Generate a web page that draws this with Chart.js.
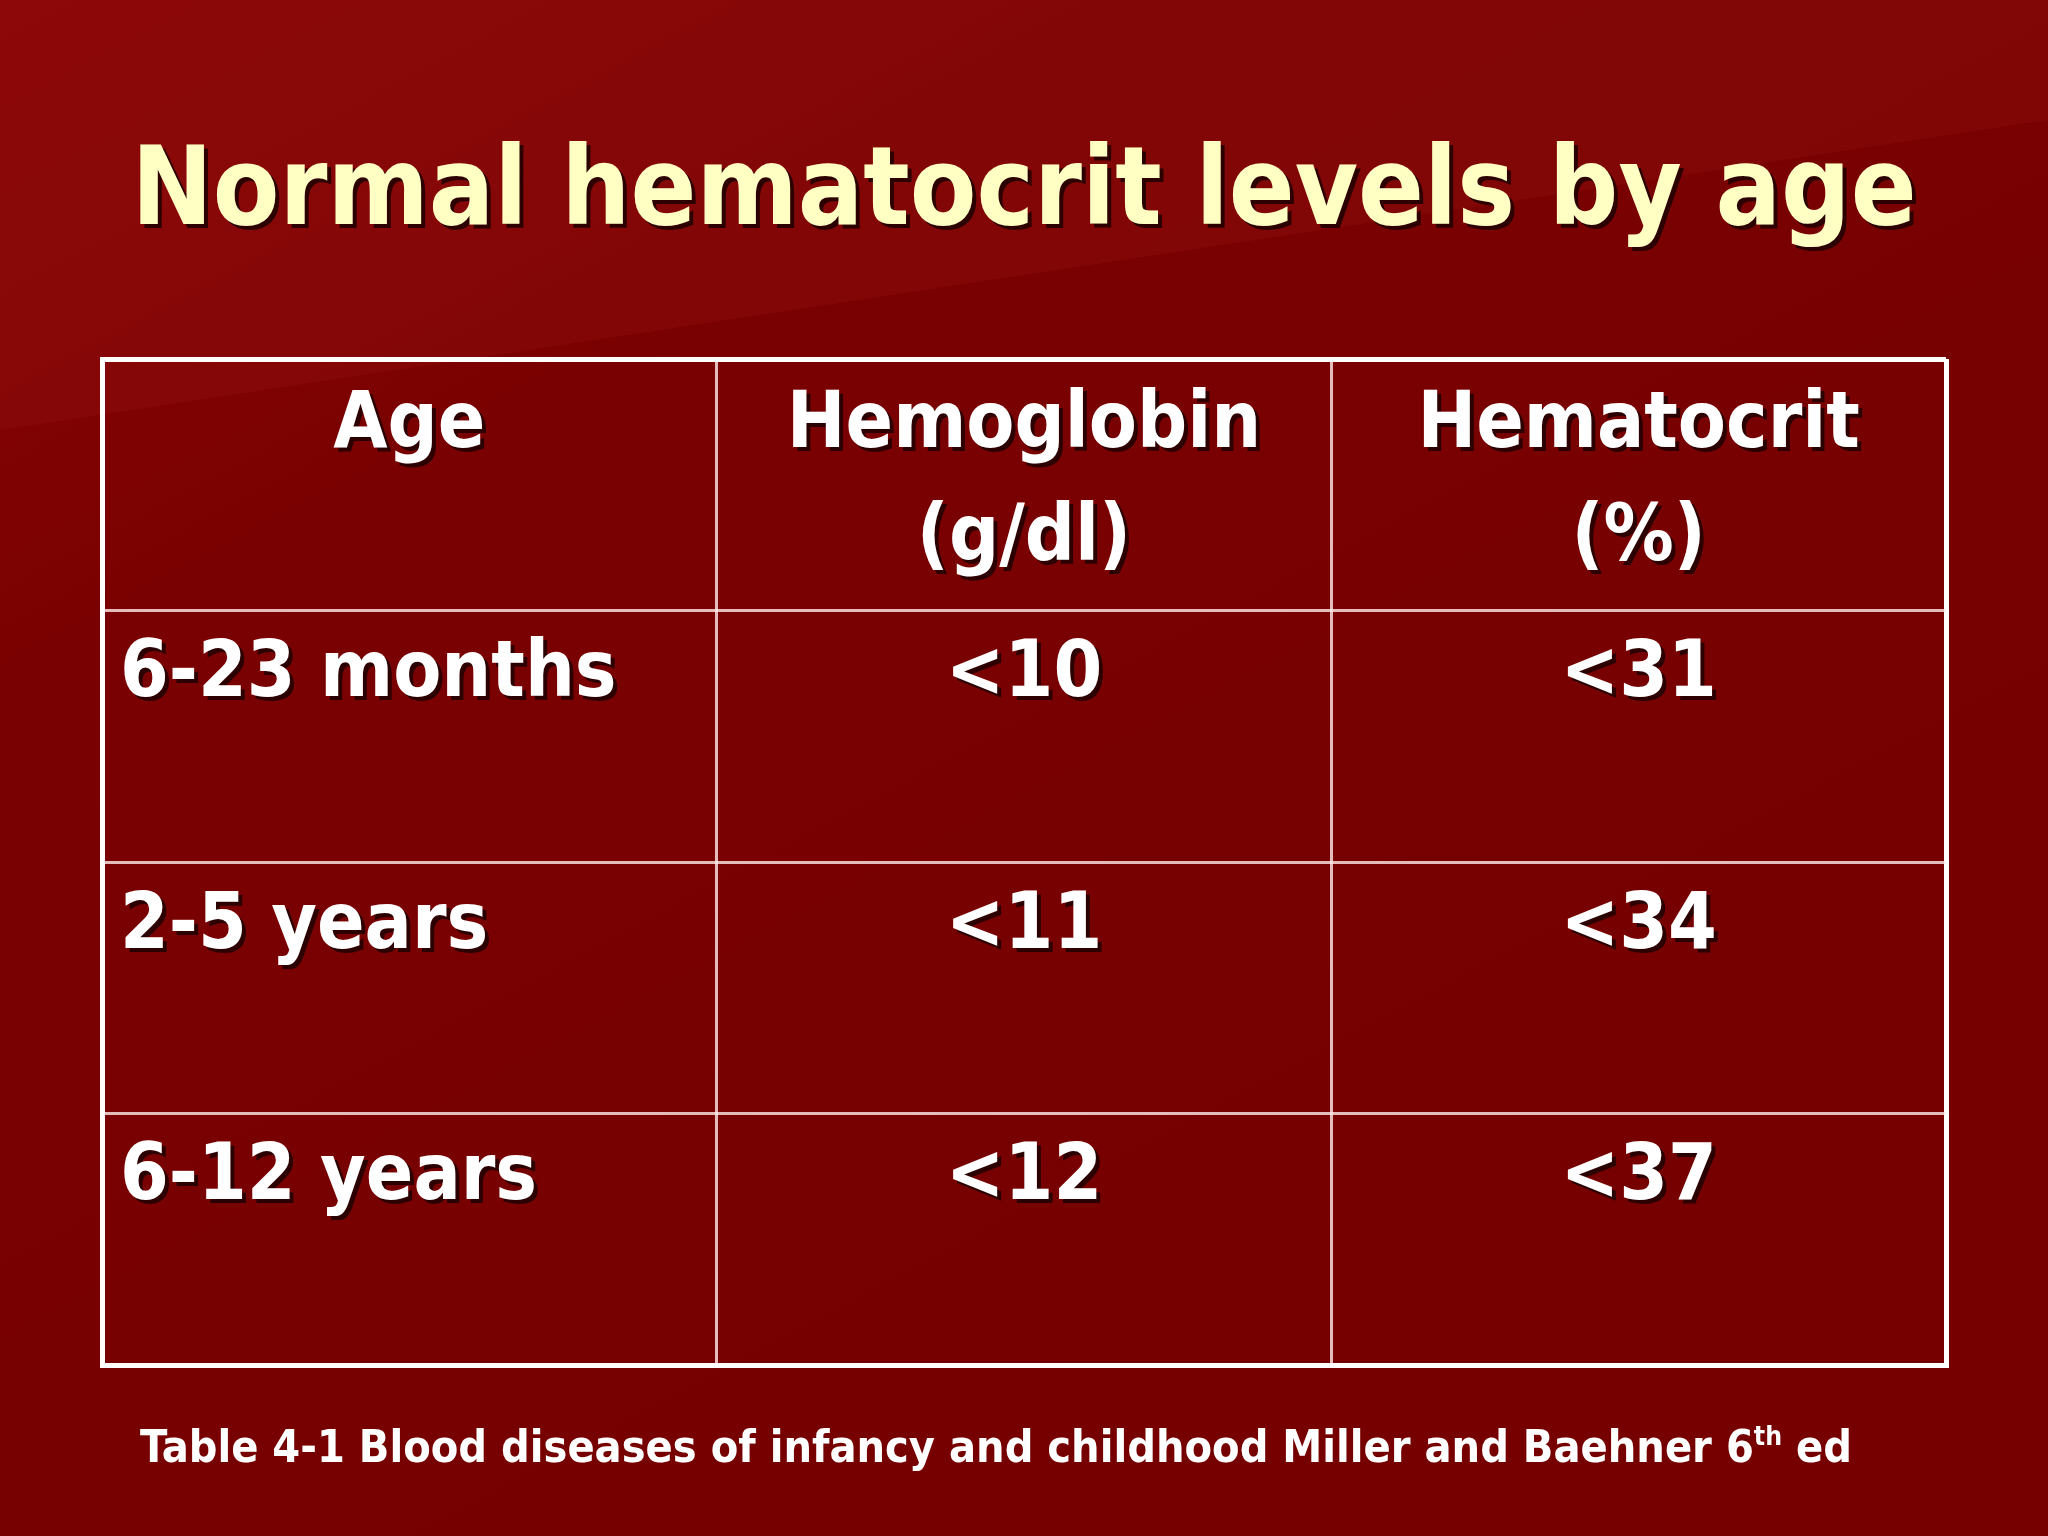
<!DOCTYPE html>
<html><head><meta charset="utf-8">
<script src="https://cdn.jsdelivr.net/npm/chart.js@4"></script>
<style>html,body{margin:0;padding:0;background:#7a0000}#w{width:2048px;height:1536px}</style>
</head><body><div id="w"><canvas id="c"></canvas></div>
<script>
const title = "Normal hematocrit levels by age";
const headers = [["Age"], ["Hemoglobin", "(g/dl)"], ["Hematocrit", "(%)"]];
const ages = ["6-23 months", "2-5 years", "6-12 years"];
const hemoglobin = ["<10", "<11", "<12"];
const hematocrit = ["<31", "<34", "<37"];
const caption = "Table 4-1 Blood diseases of infancy and childhood Miller and Baehner 6";
const captionSup = "th";
const captionEnd = " ed";

const FONT = "'DejaVu Sans Condensed', 'DejaVu Sans', sans-serif";
const tablePlugin = {
  id: 'tbl',
  beforeDraw(chart) {
    const ctx = chart.ctx, W = chart.width, H = chart.height;
    const g = ctx.createLinearGradient(0, 0, W * 0.4, H);
    g.addColorStop(0, '#8a0404'); g.addColorStop(0.35, '#7a0101'); g.addColorStop(1, '#760000');
    ctx.save(); ctx.fillStyle = g; ctx.fillRect(0, 0, W, H);
    ctx.fillStyle = 'rgba(150,20,20,0.3)';
    ctx.beginPath(); ctx.moveTo(0, 0); ctx.lineTo(W, 0); ctx.lineTo(W, 120); ctx.lineTo(0, 430); ctx.closePath(); ctx.fill();
    ctx.restore();
  },
  afterDraw(chart) {
    const ctx = chart.ctx, xs = chart.scales.x, ys = chart.scales.y;
    const shadowText = (t, x, y, color) => {
      ctx.fillStyle = 'rgba(30,0,0,0.85)'; ctx.fillText(t, x + 4, y + 4);
      ctx.fillStyle = color; ctx.fillText(t, x, y);
    };
    ctx.save();
    ctx.textBaseline = 'middle';
    ctx.font = `bold 136px ${FONT}`;
    let tw = ctx.measureText(title).width;
    const ts = 1783 / tw;
    ctx.font = `bold ${Math.round(136 * ts)}px ${FONT}`;
    ctx.textAlign = 'center';
    shadowText(title, 1024, 196, '#ffffc4');
    ctx.font = `bold 78px ${FONT}`;
    headers.forEach((lines, c) => {
      lines.forEach((l, i) => {
        shadowText(l, xs.getPixelForValue(c + 0.5), ys.getPixelForValue(0.27 + i * 0.45), '#ffffff');
      });
    });
    const cols = [ages, hemoglobin, hematocrit];
    cols.forEach((col, c) => {
      col.forEach((v, r) => {
        const y = ys.getPixelForValue(r + 1.26);
        if (c === 0) { ctx.textAlign = 'left'; shadowText(v, xs.getPixelForValue(0) + 18, y, '#ffffff'); }
        else { ctx.textAlign = 'center'; shadowText(v, xs.getPixelForValue(c + 0.5), y, '#ffffff'); }
      });
    });
    ctx.textAlign = 'left';
    ctx.font = `bold 44px ${FONT}`;
    let cw = ctx.measureText(caption).width;
    ctx.font = `bold 26px ${FONT}`; const sw = ctx.measureText(captionSup).width;
    ctx.font = `bold 44px ${FONT}`; const ew = ctx.measureText(captionEnd).width;
    const k = 1712 / (cw + sw + ew);
    ctx.font = `bold ${44 * k}px ${FONT}`;
    let x0 = 140, yc = 1450;
    ctx.fillStyle = '#ffffff'; ctx.fillText(caption, x0, yc);
    x0 += cw * k;
    ctx.font = `bold ${26 * k}px ${FONT}`; ctx.fillText(captionSup, x0, yc - 12);
    x0 += sw * k;
    ctx.font = `bold ${44 * k}px ${FONT}`; ctx.fillText(captionEnd, x0, yc);
    ctx.restore();
  }
};

new Chart(document.getElementById('c'), {
  type: 'scatter',
  data: { datasets: [{ data: [], pointRadius: 0 }] },
  options: {
    responsive: true, maintainAspectRatio: false, animation: false,
    layout: { padding: { left: 102, right: 102, top: 359, bottom: 171 } },
    plugins: { legend: { display: false }, tooltip: { enabled: false } },
    scales: {
      x: { type: 'linear', min: 0, max: 3, ticks: { display: false, stepSize: 1 },
           grid: { color: (c) => (c.tick.value === 0 || c.tick.value === 3) ? '#ffffff' : 'rgba(255,235,235,0.8)', lineWidth: (c) => (c.tick.value === 0 || c.tick.value === 3) ? 5 : 3, drawTicks: false },
           border: { display: true, color: '#ffffff', width: 5 } },
      y: { type: 'linear', min: 0, max: 4, reverse: true, ticks: { display: false, stepSize: 1 },
           grid: { color: (c) => (c.tick.value === 0 || c.tick.value === 4) ? '#ffffff' : 'rgba(255,235,235,0.8)', lineWidth: (c) => (c.tick.value === 0 || c.tick.value === 4) ? 5 : 3, drawTicks: false },
           border: { display: true, color: '#ffffff', width: 5 } }
    }
  },
  plugins: [tablePlugin]
});
</script></body></html>
